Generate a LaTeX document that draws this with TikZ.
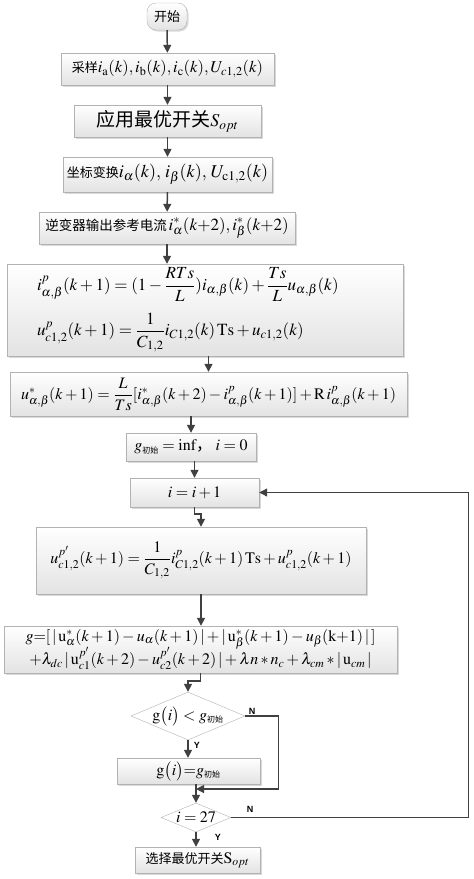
\documentclass[tikz,border=0pt]{standalone}
\usepackage{amsmath}
\usepackage{mathptmx}
\usepackage[no-math]{fontspec}
\setmainfont{Liberation Serif}
\newfontfamily\cjk{Noto Sans CJK SC}
\newfontfamily\labfont{Liberation Sans}
\usetikzlibrary{shapes.geometric,arrows.meta,shadows}

\newcommand{\zh}[1]{{\cjk\fontsize{13}{15}\selectfont #1}}
\newcommand{\chu}{\mbox{\cjk\fontsize{8}{8}\selectfont 初始}}

\begin{document}
\begin{tikzpicture}[x=1pt,y=-1pt,
    box/.style={draw=gray!60, top color=white, bottom color=gray!22,
        drop shadow={shadow xshift=1.5pt, shadow yshift=-1.5pt, opacity=.3},
        inner sep=0pt, font=\fontsize{16}{18}\selectfont},
    dec/.style={diamond, draw=gray!60, fill=white, inner sep=0pt},
    decfont/.style={font=\fontsize{16}{18}\selectfont, inner sep=0pt},
    arr/.style={draw=black!75, line width=1.5pt, -{Triangle[length=8pt,width=8pt]}},
    backarr/.style={draw=black!75, line width=1.1pt, -{Triangle[length=8pt,width=8pt]}},
    yn/.style={font=\labfont\bfseries\fontsize{9}{10}\selectfont, inner sep=1pt}]
    \useasboundingbox (0,0) rectangle (474,879);

    \node[box, rounded corners=9pt, minimum width=40pt, minimum height=27pt] (start) at (167,16.5) {\zh{开始}};
    \node[box, minimum width=213pt, minimum height=32pt, font=\fontsize{16.5}{18}\selectfont] (box1) at (167.5,69)
        {\zh{采样}$i_{\mathrm{a}}(k),i_{\mathrm{b}}(k),i_{\mathrm{c}}(k),U_{c1,2}(k)$};
    \node[box, minimum width=187pt, minimum height=32pt, font=\fontsize{18}{20}\selectfont] (box2) at (167.5,121)
        {{\cjk\fontsize{19}{20}\selectfont 应用最优开关}$S_{opt}$};
    \node[box, minimum width=209pt, minimum height=35pt, font=\fontsize{18}{20}\selectfont] (box3) at (167.5,174.5)
        {\zh{坐标变换}$i_{\alpha}(k),\,i_{\beta}(k),\,U_{\mathrm{c}1,2}(k)$};
    \node[box, minimum width=256pt, minimum height=32pt, font=\fontsize{17}{20}\selectfont] (box4) at (167,228)
        {{\cjk\fontsize{13.5}{15}\selectfont 逆变器输出参考电流}$\,i_{\alpha}^{*}(k{+}2),i_{\beta}^{*}(k{+}2)$};
    \node[box, minimum width=396pt, minimum height=92pt, text width=336pt, align=left,
        font=\fontsize{17}{20}\selectfont] (box5) at (205,310)
        {$i^{p}_{\alpha,\beta}(k+1)=(1-\dfrac{RTs}{L})i_{\alpha,\beta}(k)+\dfrac{Ts}{L}u_{\alpha,\beta}(k)$\\[10pt]
         $u^{p}_{c1,2}(k+1)=\dfrac{1}{C_{1,2}}i_{C1,2}(k)\,\mathrm{Ts}+u_{c1,2}(k)$};
    \node[box, minimum width=397pt, minimum height=44pt] (box6) at (208.5,394)
        {\medmuskip=2.5mu$u^{*}_{\alpha,\beta}(k+1)=\dfrac{L}{Ts}[i^{*}_{\alpha,\beta}(k+2)-i^{p}_{\alpha,\beta}(k+1)]+\mathrm{R}\,i^{p}_{\alpha,\beta}(k+1)$};
    \node[box, minimum width=130pt, minimum height=28pt] (box7) at (191,447)
        {$g_{\chu}=\mathrm{inf}${\cjk ，}$\;i=0$};
    \node[box, minimum width=129pt, minimum height=29pt] (box8) at (194.5,492.5) {$i=i+1$};
    \node[box, minimum width=330pt, minimum height=67pt] (box9) at (201,560.5)
        {$u^{p'}_{c1,2}(k+1)=\dfrac{1}{C_{1,2}}i^{p}_{C1,2}(k+1)\,\mathrm{Ts}+u^{p}_{c1,2}(k+1)$};
    \node[box, minimum width=393pt, minimum height=47pt, align=center] (box10) at (200.5,649.5)
        {$g{=}[\,|\,\mathrm{u}^{*}_{\alpha}(k+1)-u_{\alpha}(k+1)\,|+|\,\mathrm{u}^{*}_{\beta}(k+1)-u_{\beta}(\mathrm{k{+}1})\,|\,]$\\[-3pt]
         $+\lambda_{dc}\,|\,\mathrm{u}^{p'}_{c1}(k+2)-u^{p'}_{c2}(k+2)\,|+\lambda n*n_{c}+\lambda_{cm}*|\,\mathrm{u}_{cm}\,|$};
    \node[dec, minimum width=114pt, minimum height=48pt,
        label={[decfont]center:$\mathrm{g}\big(i\big)<g_{\chu}$}] (dia1) at (188,716) {};
    \node[box, minimum width=143pt, minimum height=26pt] (box11) at (188.5,771)
        {$\mathrm{g}\big(i\big){=}g_{\chu}$};
    \node[dec, minimum width=70pt, minimum height=29pt,
        label={[decfont]center:$i=27$}] (dia2) at (196,817.5) {};
    \node[box, minimum width=125pt, minimum height=26pt] (box12) at (197.5,860)
        {\zh{选择最优开关}$\mathrm{S}_{opt}$};

    \coordinate (jn) at (196,789);

    \draw[arr] (start) -- (box1);
    \draw[arr] (box1) -- (box2);
    \draw[arr] (box2) -- (box3);
    \draw[arr] (box3) -- (box4);
    \draw[arr] (box4.south) -- (box4.south |- box5.north);
    \draw[arr] (box6.north |- box5.south) -- (box6.north);
    \draw[arr] (box7.north |- box6.south) -- (box7.north);
    \draw[arr] (box8.north |- box7.south) -- (box8.north);
    \draw[arr] (box8.south) -- ++(0,7) -| (box9.north);
    \draw[arr] (box9.south) -- (box9.south |- box10.north);
    \draw[arr] (box10.south) -- ++(0,8) -| (dia1.north);
    \draw[arr] (dia1.south) node[yn, anchor=north west, xshift=4pt] {Y} -- (dia1.south |- box11.north);
    \draw[arr] (dia2.north |- box11.south) -- (dia2.north);
    \draw[arr] (dia2.south) node[yn, anchor=north west, xshift=17pt] {Y} -- (dia2.south |- box12.north);
    \draw[backarr] (dia1.east) node[yn, anchor=south west, xshift=2pt] {N} -- ++(33,0) |- (jn);
    \draw[backarr] (dia2.east) node[yn, anchor=south west, xshift=14pt, yshift=3pt] {N} -- ++(237,0) |- (box8.east);
\end{tikzpicture}
\end{document}
